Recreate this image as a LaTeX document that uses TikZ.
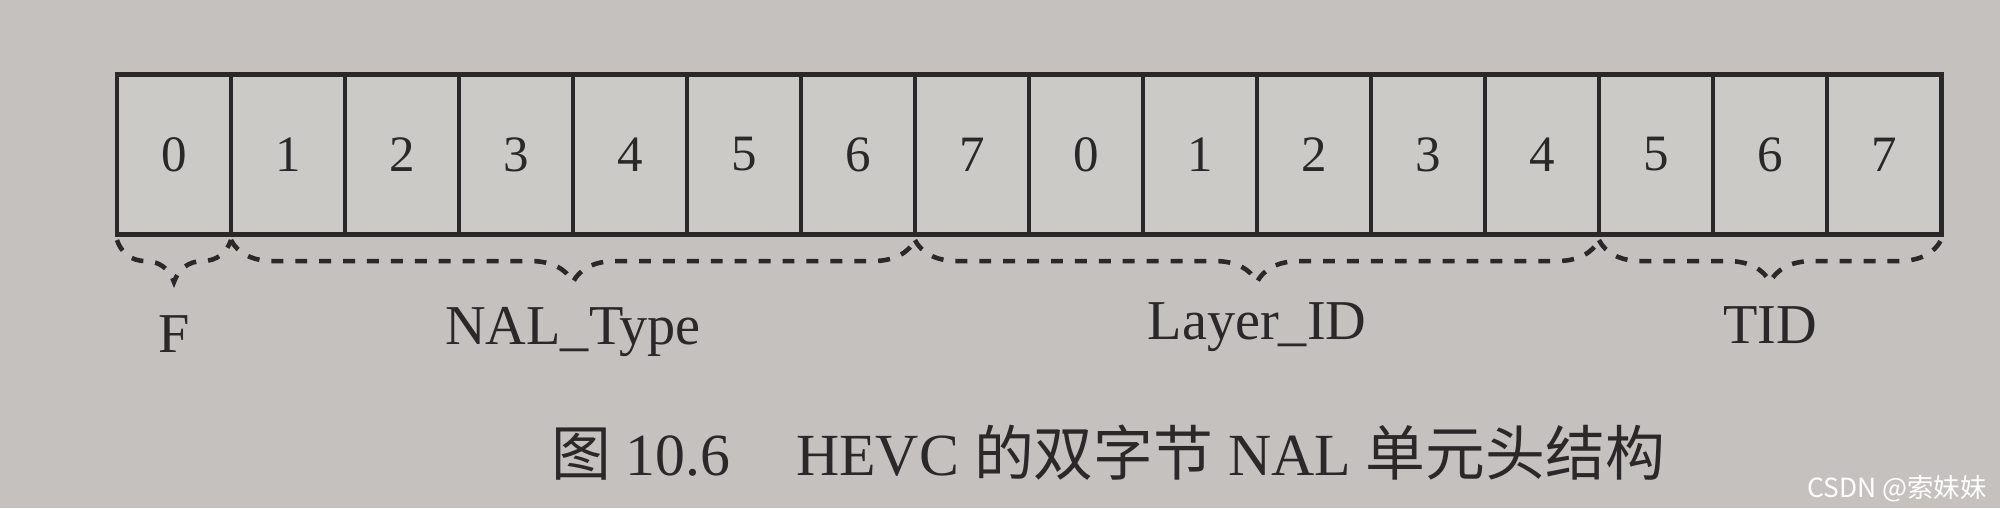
\documentclass[tikz,border=0pt]{standalone}
\usepackage{fontspec}
\setmainfont{Liberation Serif}
\newfontfamily\cjk{Noto Sans CJK SC}
\usetikzlibrary{decorations.pathreplacing}

\definecolor{paper}{RGB}{196,193,190}
\definecolor{boxfill}{RGB}{204,202,199}
\definecolor{ink}{RGB}{42,40,40}

\tikzset{
  bitbox/.style = {draw=ink, line width=1.4pt, fill=boxfill, minimum width=1.14cm, minimum height=1.59cm, inner sep=0pt, outer sep=0pt, text=ink, font=\fontsize{14.5}{16}\selectfont},
  fieldbrace/.style = {draw=ink, line width=1.3pt, dash pattern=on 3.4pt off 3.4pt, decorate, decoration={brace, mirror, amplitude=0.42cm, raise=0.06cm}},
  fieldlabel/.style = {text=ink, inner sep=0pt, font=\fontsize{16}{18}\selectfont},
  caption/.style = {text=ink, inner sep=0pt, font=\fontsize{17}{19}\selectfont},
  watermark/.style = {text=white!88, inner sep=0pt, font=\cjk\fontsize{7.5}{9}\selectfont}
}

\begin{document}
\begin{tikzpicture}[x=0.01cm, y=0.01cm]
  \useasboundingbox[fill=paper] (0,0) rectangle (2000,508);
  % two header bytes
  \foreach \bit [count=\i from 0] in {0,1,2,3,4,5,6,7,0,1,2,3,4,5,6,7}
    \node [bitbox] (b\i) at (174+114*\i, 353.5) {\bit};
  % fields under the bits
  \draw [fieldbrace] (b0.south west) -- node [fieldlabel, yshift=-1.0cm] (f) {F} (b0.south east);
  \draw [fieldbrace] (b1.south west) -- node [fieldlabel, yshift=-0.98cm] (nal) {NAL\_Type} (b6.south east);
  \draw [fieldbrace] (b7.south west) -- node [fieldlabel, yshift=-0.93cm] (layer) {Layer\_ID} (b12.south east);
  \draw [fieldbrace] (b13.south west) -- node [fieldlabel, yshift=-0.91cm] (tid) {TID} (b15.south east);
  \node [caption] (cap) at (1108,55) {{\cjk 图}~10.6\hspace{1.1em}HEVC~{\cjk 的双字节}~NAL~{\cjk 单元头结构}};
  \node [watermark] (wm) at (1897,19) {CSDN @索妹妹};
\end{tikzpicture}
\end{document}
